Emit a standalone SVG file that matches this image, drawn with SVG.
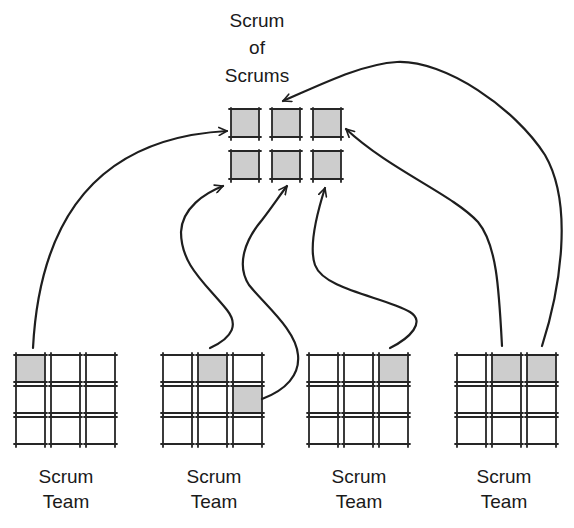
<svg xmlns="http://www.w3.org/2000/svg" xmlns:xlink="http://www.w3.org/1999/xlink" width="574" height="528" viewBox="0 0 574 528">
<style>
.ln{fill:none;stroke:#1e1e1e;stroke-width:2.2;stroke-linecap:round;stroke-linejoin:round}
.ed{fill:none;stroke:#262626;stroke-width:1.8;stroke-linecap:round}
.lbl{font-family:"Liberation Sans","DejaVu Sans",sans-serif;font-size:19px;fill:#1a1a1a;text-anchor:middle}
</style>
<defs>
<marker id="ah" viewBox="0 0 10 10" refX="9" refY="5" markerWidth="10" markerHeight="10" markerUnits="userSpaceOnUse" orient="auto">
<path d="M1,1 L9,5 L1,9" fill="none" stroke="#1e1e1e" stroke-width="1.6" stroke-linecap="round" stroke-linejoin="round"/>
</marker>
<g id="c">
<rect x="0" y="0" width="29" height="27" fill="#fff"/>
<path class="ed" d="M-2,0 H31 M0,-2 V30 M29,-2 V30 M-2,27 H31"/>
</g>
<g id="cs">
<rect x="0" y="0" width="29" height="27" fill="#cdcdcd"/>
<path class="ed" d="M-2,0 H31 M0,-2 V30 M29,-2 V30 M-2,27 H31"/>
</g>
<g id="t">
<rect x="0" y="0" width="28" height="28" fill="#cdcdcd"/>
<path class="ed" d="M-2,0 H30 M0,-1 V31 M28,-1 V31 M-2,28 H30"/>
</g>
</defs>
<rect width="574" height="528" fill="#fff"/>

<g id="scrum-of-scrums">
<text class="lbl" x="257" y="27">Scrum</text>
<text class="lbl" x="257" y="54">of</text>
<text class="lbl" x="257" y="82">Scrums</text>
<use xlink:href="#t" x="231" y="109"/>
<use xlink:href="#t" x="272" y="109"/>
<use xlink:href="#t" x="313" y="109"/>
<use xlink:href="#t" x="231" y="151"/>
<use xlink:href="#t" x="272" y="151"/>
<use xlink:href="#t" x="313" y="151"/>
</g>

<g id="team1">
<use xlink:href="#cs" x="16" y="355"/><use xlink:href="#c" x="51" y="355"/><use xlink:href="#c" x="86" y="355"/>
<use xlink:href="#c" x="16" y="386"/><use xlink:href="#c" x="51" y="386"/><use xlink:href="#c" x="86" y="386"/>
<use xlink:href="#c" x="16" y="417"/><use xlink:href="#c" x="51" y="417"/><use xlink:href="#c" x="86" y="417"/>
<text class="lbl" x="66" y="483">Scrum</text>
<text class="lbl" x="66" y="508">Team</text>
</g>

<g id="team2">
<use xlink:href="#c" x="163" y="355"/><use xlink:href="#cs" x="198" y="355"/><use xlink:href="#c" x="233" y="355"/>
<use xlink:href="#c" x="163" y="386"/><use xlink:href="#c" x="198" y="386"/><use xlink:href="#cs" x="233" y="386"/>
<use xlink:href="#c" x="163" y="417"/><use xlink:href="#c" x="198" y="417"/><use xlink:href="#c" x="233" y="417"/>
<text class="lbl" x="214" y="483">Scrum</text>
<text class="lbl" x="214" y="508">Team</text>
</g>

<g id="team3">
<use xlink:href="#c" x="309" y="355"/><use xlink:href="#c" x="344" y="355"/><use xlink:href="#cs" x="379" y="355"/>
<use xlink:href="#c" x="309" y="386"/><use xlink:href="#c" x="344" y="386"/><use xlink:href="#c" x="379" y="386"/>
<use xlink:href="#c" x="309" y="417"/><use xlink:href="#c" x="344" y="417"/><use xlink:href="#c" x="379" y="417"/>
<text class="lbl" x="359" y="483">Scrum</text>
<text class="lbl" x="359" y="508">Team</text>
</g>

<g id="team4">
<use xlink:href="#c" x="457" y="355"/><use xlink:href="#cs" x="492" y="355"/><use xlink:href="#cs" x="527" y="355"/>
<use xlink:href="#c" x="457" y="386"/><use xlink:href="#c" x="492" y="386"/><use xlink:href="#c" x="527" y="386"/>
<use xlink:href="#c" x="457" y="417"/><use xlink:href="#c" x="492" y="417"/><use xlink:href="#c" x="527" y="417"/>
<text class="lbl" x="504" y="483">Scrum</text>
<text class="lbl" x="504" y="508">Team</text>
</g>

<g id="connectors">
<path class="ln" marker-end="url(#ah)" d="M33,348 C40,215 100,138 227,131"/>
<path class="ln" marker-end="url(#ah)" d="M210,348 C234,337 238,324 227,310 C205,283 181,265 181,232 C182,208 205,193 223,186"/>
<path class="ln" marker-end="url(#ah)" d="M262,399 C286,390 300,375 298,355 C296,330 266,306 249,285 C236,265 245,240 262,220 C272,207 280,195 287,186"/>
<path class="ln" marker-end="url(#ah)" d="M390,348 C410,338 426,322 410,312 C385,297 324,290 315,265 C308,245 318,210 325,188"/>
<path class="ln" marker-end="url(#ah)" d="M502,346 C499,290 497,245 478,222 C452,194 390,170 346,129"/>
<path class="ln" marker-end="url(#ah)" d="M542,346 C560,290 574,205 545,155 C515,108 445,60 397,62 C362,64 320,85 283,101"/>
</g>
</svg>
